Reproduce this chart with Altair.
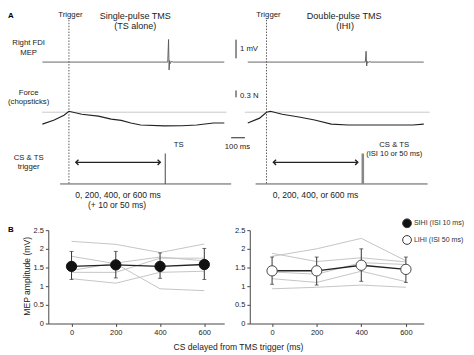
import altair as alt
import pandas as pd

FONT = "Liberation Sans"

# ---------------- data ----------------
# Panel B (MEP amplitude, mV) vs CS delay (ms)
delays = [0, 200, 400, 600]
sihi_mean = [1.53, 1.57, 1.53, 1.58]
sihi_upper = [1.93, 1.93, 1.89, 2.01]
sihi_lower = [1.18, 1.22, 1.21, 1.18]
lihi_mean = [1.41, 1.41, 1.56, 1.45]
lihi_upper = [1.78, 1.78, 2.00, 1.78]
lihi_lower = [1.05, 1.03, 1.13, 1.10]
sihi_subjects = [
    [2.20, 2.12, 1.90, 2.13],
    [1.80, 1.60, 0.93, 0.88],
    [1.42, 1.62, 1.78, 1.68],
    [1.37, 1.37, 1.75, 1.75],
    [1.20, 1.08, 1.37, 1.40],
]
lihi_subjects = [
    [1.80, 2.00, 2.28, 1.68],
    [1.88, 1.66, 1.76, 1.65],
    [1.38, 1.32, 1.63, 1.58],
    [1.20, 1.10, 1.40, 1.12],
    [0.93, 0.97, 1.03, 0.97],
]
legend_labels = ["SIHI (ISI 10 ms)", "LIHI (ISI 50 ms)"]
xtick_values = [0, 200, 400, 600]
ytick_values = [0, 0.5, 1, 1.5, 2, 2.5]

# Panel A traces (time in ms relative to the trigger)
mep_single_t = [-193, 718, 724, 728, 732, 736, 745, 760, 1129]
mep_single_mv = [0, 0, 1.21, -0.42, 0.08, -0.08, 0.03, 0, 0]
mep_double_t = [-136, 718, 724, 728, 732, 736, 745, 760, 1143]
mep_double_mv = [0, 0, 0.58, -0.21, 0.04, -0.04, 0.02, 0, 0]

force_single_t = [-193, -107, -36, 0, 93, 214, 307, 380, 450, 521, 693, 820, 929, 1050, 1129]
force_single_n = [-0.52, -0.34, -0.13, 0.04, -0.09, -0.17, -0.30, -0.36, -0.47, -0.56, -0.60, -0.59, -0.56, -0.47, -0.47]
force_double_t = [-136, -50, 0, 29, 114, 236, 350, 471, 593, 829, 1064, 1143]
force_double_n = [-0.47, -0.26, 0, 0.04, -0.09, -0.21, -0.34, -0.52, -0.56, -0.56, -0.56, -0.52]

force_ref_single = [-195, 1145]
force_ref_double = [-157, 1186]
trigger_base_single = [-64, 1179]
trigger_base_double = [-79, 1171]
ts_time = [700]
arrow_span = [50, 664]
scalebar_mv = [0.2, 1.2]
scalebar_n = [0.65, 0.95]
scalebar_ms = [1179, 1279]

# ---------------- layout helpers ----------------
W, H = 466, 347


def cx(rx):
    return rx - 8


def cy(ry):
    return ry - 8


def lin(domain, rng):
    return alt.Scale(domain=domain, range=rng, nice=False, zero=False)


tA_left = lin([-400, 1400], [cx(70) - 56, cx(70) + 196])
tA_right = lin([-400, 1400], [cx(271) - 56, cx(271) + 196])
mep_y = lin([-2, 3], [cy(98), cy(3)])
force_y = lin([-1, 1], [cy(134.3), cy(87.7)])
pulse_y = lin([0, 1], [cy(184), cy(153)])
bL_x = lin([-105, 690], [cx(49), cx(228)])
bR_x = lin([-100, 680], [cx(254), cx(431)])
b_y = lin([0, 2.5], [cy(326), cy(231)])


def label(text, rx, ry, size=7.9, align="center", weight="normal", angle=0, color="#222"):
    return alt.Chart(pd.DataFrame({"t": [text]})).mark_text(
        align=align, baseline="middle", fontSize=size, fontWeight=weight,
        font=FONT, color=color, angle=angle
    ).encode(x=alt.value(cx(rx)), y=alt.value(cy(ry)), text="t:N")


def panel_a(ts, mep_t, mep_v, f_t, f_v, ref, base, pulse_w, pulse_c):
    layers = []
    layers.append(alt.Chart(pd.DataFrame({"t": [0]})).mark_rule(
        color="#444", strokeWidth=0.9, strokeDash=[1.5, 1.5]
    ).encode(x=alt.X("t:Q", scale=ts, axis=None), y=alt.value(cy(17)), y2=alt.value(cy(184))))
    layers.append(alt.Chart(pd.DataFrame({"t": mep_t, "v": mep_v})).mark_line(
        color="#555", strokeWidth=0.9
    ).encode(x=alt.X("t:Q", scale=ts, axis=None), y=alt.Y("v:Q", scale=mep_y, axis=None)))
    layers.append(alt.Chart(pd.DataFrame({"a": [ref[0]], "b": [ref[1]], "v": [0]})).mark_rule(
        color="#c8c8c8", strokeWidth=1
    ).encode(x=alt.X("a:Q", scale=ts, axis=None), x2="b:Q", y=alt.Y("v:Q", scale=force_y, axis=None)))
    layers.append(alt.Chart(pd.DataFrame({"t": f_t, "v": f_v})).mark_line(
        color="#222", strokeWidth=1.2
    ).encode(x=alt.X("t:Q", scale=ts, axis=None), y=alt.Y("v:Q", scale=force_y, axis=None)))
    layers.append(alt.Chart(pd.DataFrame({"a": [base[0]], "b": [base[1]], "v": [0]})).mark_rule(
        color="#555", strokeWidth=1
    ).encode(x=alt.X("a:Q", scale=ts, axis=None), x2="b:Q", y=alt.Y("v:Q", scale=pulse_y, axis=None)))
    layers.append(alt.Chart(pd.DataFrame({"t": ts_time, "lo": [0], "hi": [1]})).mark_rule(
        color=pulse_c, strokeWidth=pulse_w
    ).encode(x=alt.X("t:Q", scale=ts, axis=None), y=alt.Y("lo:Q", scale=pulse_y, axis=None), y2="hi:Q"))
    layers.append(alt.Chart(pd.DataFrame({"a": [arrow_span[0]], "b": [arrow_span[1]]})).mark_rule(
        color="#222", strokeWidth=1.3
    ).encode(x=alt.X("a:Q", scale=ts, axis=None), x2="b:Q", y=alt.value(cy(162))))
    layers.append(alt.Chart(pd.DataFrame({"t": [arrow_span[0]]})).mark_point(
        shape="M1,-1L0,0L1,1", filled=False, size=30, strokeWidth=1.4, color="#222", opacity=1
    ).encode(x=alt.X("t:Q", scale=ts, axis=None), y=alt.value(cy(162))))
    layers.append(alt.Chart(pd.DataFrame({"t": [arrow_span[1]]})).mark_point(
        shape="M-1,-1L0,0L-1,1", filled=False, size=30, strokeWidth=1.4, color="#222", opacity=1
    ).encode(x=alt.X("t:Q", scale=ts, axis=None), y=alt.value(cy(162))))
    return layers


def panel_b(bx, mean, upper, lower, subjects, fill, stroke, y_offset):
    layers = []
    rows = []
    for i, s in enumerate(subjects):
        for d, v in zip(delays, s):
            rows.append({"subject": i, "delay": d, "value": v})
    sub = pd.DataFrame(rows)
    layers.append(alt.Chart(sub).mark_line(color="#c4c4c4", strokeWidth=1).encode(
        x=alt.X("delay:Q", scale=bx, axis=alt.Axis(
            orient="bottom", offset=-(H - cy(326)), values=xtick_values, format="d", title=None)),
        y=alt.Y("value:Q", scale=b_y, axis=alt.Axis(
            orient="left", offset=y_offset, values=ytick_values, format="~g", title=None)),
        detail="subject:N",
    ))
    m = pd.DataFrame({"delay": delays, "mean": mean, "hi": upper, "lo": lower})
    layers.append(alt.Chart(m).mark_rule(color="#333", strokeWidth=1).encode(
        x=alt.X("delay:Q", scale=bx, axis=None),
        y=alt.Y("lo:Q", scale=b_y, axis=None), y2="hi:Q"))
    for f in ["lo", "hi"]:
        layers.append(alt.Chart(m).mark_tick(color="#333", thickness=1, size=4, orient="horizontal").encode(
            x=alt.X("delay:Q", scale=bx, axis=None),
            y=alt.Y(f + ":Q", scale=b_y, axis=None)))
    layers.append(alt.Chart(m).mark_line(color="#222", strokeWidth=1.5).encode(
        x=alt.X("delay:Q", scale=bx, axis=None),
        y=alt.Y("mean:Q", scale=b_y, axis=None)))
    layers.append(alt.Chart(m).mark_point(
        filled=True, fill=fill, stroke=stroke, strokeWidth=1, size=110, opacity=1
    ).encode(
        x=alt.X("delay:Q", scale=bx, axis=None),
        y=alt.Y("mean:Q", scale=b_y, axis=None)))
    return layers


layers = []
layers += panel_a(tA_left, mep_single_t, mep_single_mv, force_single_t, force_single_n,
                  force_ref_single, trigger_base_single, 1, "#444")
layers += panel_a(tA_right, mep_double_t, mep_double_mv, force_double_t, force_double_n,
                  force_ref_double, trigger_base_double, 2.6, "#888")

# scale bars
layers.append(alt.Chart(pd.DataFrame({"lo": [scalebar_mv[0]], "hi": [scalebar_mv[1]]})).mark_rule(
    color="#222", strokeWidth=1).encode(
    x=alt.value(cx(240)), y=alt.Y("lo:Q", scale=mep_y, axis=None), y2="hi:Q"))
layers.append(alt.Chart(pd.DataFrame({"lo": [scalebar_n[0]], "hi": [scalebar_n[1]]})).mark_rule(
    color="#222", strokeWidth=1).encode(
    x=alt.value(cx(240)), y=alt.Y("lo:Q", scale=force_y, axis=None), y2="hi:Q"))
layers.append(alt.Chart(pd.DataFrame({"a": [scalebar_ms[0]], "b": [scalebar_ms[1]]})).mark_rule(
    color="#222", strokeWidth=1).encode(
    x=alt.X("a:Q", scale=tA_left, axis=None), x2="b:Q", y=alt.value(cy(137))))

# panel B
layers += panel_b(bL_x, sihi_mean, sihi_upper, sihi_lower, sihi_subjects, "#111", "#111", -cx(49))
layers += panel_b(bR_x, lihi_mean, lihi_upper, lihi_lower, lihi_subjects, "#ffffff", "#444", -cx(254))

# legend
leg = pd.DataFrame({"label": legend_labels})
leg_y = alt.Y("label:N", scale=alt.Scale(type="point", domain=legend_labels,
                                          range=[cy(224), cy(241)], padding=0), axis=None)
layers.append(alt.Chart(leg).mark_point(filled=True, size=80, stroke="#333", strokeWidth=1, opacity=1).encode(
    x=alt.value(cx(414)), y=leg_y,
    fill=alt.Fill("label:N", scale=alt.Scale(domain=legend_labels, range=["#111", "#ffffff"]), legend=None)))
layers.append(alt.Chart(leg).mark_text(align="left", baseline="middle", fontSize=7.2, font=FONT, color="#333").encode(
    x=alt.value(cx(421)), y=leg_y, text="label:N"))

# texts
layers += [
    label("A", 8, 13, size=8, align="left", weight="bold", color="#000"),
    label("B", 8, 231, size=8, align="left", weight="bold", color="#000"),
    label("Trigger", 71.5, 12),
    label("Trigger", 273, 12),
    label("Single-pulse TMS", 137.5, 13, size=9.2),
    label("(TS alone)", 137.5, 23, size=9.2),
    label("Double-pulse TMS", 350, 13, size=9.2),
    label("(IHI)", 351, 23, size=9.2),
    label("Right FDI", 29, 41),
    label("MEP", 29, 51),
    label("Force", 29, 91),
    label("(chopsticks)", 29, 101),
    label("CS & TS", 29, 158),
    label("trigger", 29, 167),
    label("1 mV", 244, 47, align="left"),
    label("0.3 N", 244, 95, align="left"),
    label("100 ms", 241.5, 146),
    label("TS", 181.7, 144),
    label("CS & TS", 401, 144.5),
    label("(ISI 10 or 50 ms)", 401, 153.5, size=7.7),
    label("0, 200, 400, or 600 ms", 120, 195, size=8.7),
    label("(+ 10 or 50 ms)", 119, 205, size=8.7),
    label("0, 200, 400, or 600 ms", 321, 195, size=8.7),
    label("MEP amplitude (mV)", 27, 278, size=8.7, angle=270),
    label("CS delayed from TMS trigger (ms)", 242.5, 350, size=8.7),
]

chart = alt.layer(*layers).resolve_scale(x="independent", y="independent").properties(
    width=W, height=H, padding=0, autosize=alt.AutoSizeParams(type="none")
).configure_view(stroke=None).configure_axis(
    labelFont=FONT, labelFontSize=7.6, labelColor="#222", domainColor="#444", tickColor="#444",
    tickSize=3, labelPadding=2, grid=False, domainWidth=1, tickWidth=1
)

chart.save("out.html", embed_options={"renderer": "svg", "actions": False})
